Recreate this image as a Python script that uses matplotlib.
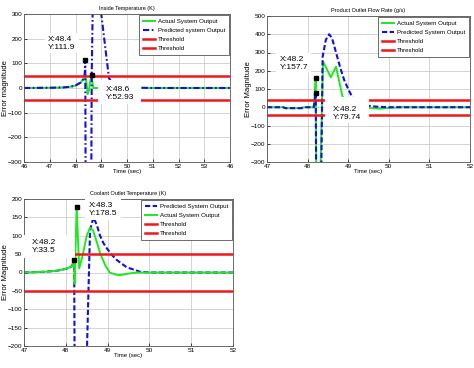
import matplotlib
matplotlib.use('Agg')
import matplotlib.pyplot as plt
from matplotlib.path import Path

plt.rcParams['font.family'] = ['Liberation Sans', 'DejaVu Sans']

# inside temperature (top left)
tl_time_act = [46.0, 46.5, 47.0, 47.5, 47.8, 48.0, 48.2, 48.3, 48.34, 48.38, 48.43, 48.47,
               48.52, 48.58, 48.63, 48.66, 48.7, 49.0, 50.6, 51.0, 54.0]
tl_act = [0, 0.5, 1, 2, 5, 10, 22, 35, 42, 48, 20, -25, -10, 30, 52.93, 20, 0, 0, 0, 0, 0]
tl_time_pred = [46.0, 46.5, 47.0, 47.5, 47.8, 48.0, 48.2, 48.3, 48.33, 48.36, 48.38, 48.4,
                48.6, 48.63, 48.68, 48.8, 48.9, 49.0, 49.15, 49.3, 49.45, 49.7, 50.0, 50.6,
                51.0, 52.0, 53.0, 54.0]
tl_pred = [0, 0.5, 1, 2, 5, 10, 22, 35, 40, 60, 111.9, -700, -700, 52.93, 400, 700, 500,
           300, 170, 40, 15, 5, 2, 1, 0, 0, 0, 0]
tl_thresholds = [50, -50]
tl_xticks = [46, 47, 48, 49, 50, 51, 52, 53, 54]
tl_xticklabels = ['46', '47', '48', '49', '50', '51', '52', '53', '46']
tl_tips = [(48.38, 111.9), (48.63, 52.93)]

# product outlet flow rate (top right)
tr_time_act = [47.0, 47.4, 47.45, 47.85, 47.9, 48.15, 48.18, 48.2, 48.22, 48.28, 48.38, 48.45,
               48.57, 48.7, 48.86, 49.0, 49.3, 49.6, 49.8, 50.0, 50.3, 52.0]
tr_act = [0, 0, -5, -5, 0, 0, 80, 157.7, -700, -700, 250, 220, 164, 222, 58, 20, 0, -5, -8,
          -3, 0, 0]
tr_time_pred = [47.0, 47.4, 47.45, 47.85, 47.9, 48.15, 48.18, 48.2, 48.22, 48.32, 48.37, 48.45,
                48.53, 48.6, 48.7, 48.8, 48.9, 49.0, 49.1, 49.3, 49.5, 49.7, 50.0, 51.0, 52.0]
tr_pred = [0, 0, -5, -5, 0, 0, 40, 79.74, -700, -700, 277, 370, 400, 380, 300, 220, 150, 100,
           55, 20, 8, 3, 0, 0, 0]
tr_thresholds = [40, -40]
tr_tips = [(48.2, 157.7), (48.2, 79.74)]

# coolant outlet temperature (bottom left)
bl_time_pred = [47.0, 47.5, 47.8, 48.0, 48.1, 48.15, 48.2, 48.22, 48.44, 48.58, 48.66, 48.74,
                48.82, 48.9, 48.98, 49.1, 49.22, 49.46, 49.78, 50.0, 52.0]
bl_pred = [0, 2, 5, 10, 14, 18, 33.5, -500, -500, 115, 150, 130, 100, 80, 66, 48, 34, 14, 2,
           0, 0]
bl_time_act = [47.0, 47.5, 47.8, 48.0, 48.1, 48.15, 48.2, 48.21, 48.26, 48.32, 48.4, 48.5,
               48.58, 48.65, 48.75, 48.82, 48.95, 49.05, 49.2, 49.3, 49.5, 49.7, 52.0]
bl_act = [0, 2, 5, 10, 14, 18, 33.5, -30, 178.5, 11, 45, 100, 122, 115, 80, 53, 18, 0, -6, -7,
          -3, 0, 0]
bl_thresholds = [50, -50]
bl_tips = [(48.2, 33.5), (48.26, 178.5)]

GREEN = '#1ee81e'
BLUE = '#1010e0'
RED = '#f01818'
DASH = (0, (2.5, 1.2))
DASHDOT = (0, (3, 1.2, 0.8, 1.2))


def tip_box(l, r, b, t):
    # box with separate paddings on each side, in font-size units
    def style(x0, y0, w, h, s):
        x1, y1 = x0 - l * s, y0 - b * s
        x2, y2 = x0 + w + r * s, y0 + h + t * s
        return Path([(x1, y1), (x2, y1), (x2, y2), (x1, y2), (x1, y1)], closed=True)
    return style


def setup(ax, title, ylabel, xlim, ylim, xticks, yticks, ylab_x):
    ax.set_xlim(xlim)
    ax.set_ylim(ylim)
    ax.set_xticks(xticks)
    ax.set_yticks(yticks)
    ax.grid(True, color='#c4c4c4', lw=0.5)
    ax.set_axisbelow(True)
    ax.tick_params(direction='in', length=2, width=0.5, labelsize=4.6, pad=1.2)
    for s in ax.spines.values():
        s.set_color('#555555')
        s.set_linewidth(0.6)
    ax.set_title(title, fontsize=4.0, pad=3)
    ax.set_xlabel('Time (sec)', fontsize=4.3, labelpad=0.5)
    ax.set_ylabel(ylabel, fontsize=5.6)
    ax.yaxis.set_label_coords(ylab_x, 0.5)


def thresholds(ax, values):
    for v in values:
        ax.axhline(v, color=RED, lw=1.8, label='Threshold')


def legend(ax):
    leg = ax.legend(loc='upper right', bbox_to_anchor=(1, 1), fontsize=4.45, fancybox=False,
                    framealpha=1, edgecolor='#333333', borderaxespad=0.2, handlelength=1.95,
                    handletextpad=0.5, labelspacing=0.6, borderpad=0.6)
    leg.get_frame().set_linewidth(0.5)


def datatip(ax, tip, tx, ty, pads):
    x, y = tip
    ax.plot([x], [y], 's', color='black', ms=2.2, zorder=6)
    ax.text(tx, ty, f'X:{x:.1f}\nY:{y:g}', fontsize=6, ha='center', va='center',
            multialignment='left', zorder=5,
            bbox=dict(boxstyle=tip_box(*pads), fc='white', ec='none'))


fig = plt.figure(figsize=(4.74, 3.68), dpi=100)
ax1 = fig.add_axes([24 / 474, 206 / 368, 206 / 474, 148 / 368])
ax2 = fig.add_axes([267 / 474, 206 / 368, 203 / 474, 146 / 368])
ax3 = fig.add_axes([24 / 474, 22 / 368, 209 / 474, 147 / 368])

# top left
setup(ax1, 'Inside Temperature (K)', 'Error magnitude', (46, 54), (-300, 300),
      tl_xticks, range(-300, 301, 100), -0.073)
ax1.set_xticklabels(tl_xticklabels)
ax1.plot(tl_time_act, tl_act, color=GREEN, lw=1.4, label='Actual System Output')
ax1.plot(tl_time_pred, tl_pred, color=BLUE, lw=1.5, ls=DASHDOT, label='Predicted system Output')
thresholds(ax1, tl_thresholds)
legend(ax1)
datatip(ax1, tl_tips[0], 47.46, 182, (0.4, 0.4, 0.3, 0.3))
datatip(ax1, tl_tips[1], 49.71, -24, (0.9, 0.9, 0.3, 0.8))

# top right
setup(ax2, 'Product Outlet Flow Rate (g/s)', 'Error Magnitude', (47, 52), (-300, 500),
      range(47, 53), range(-300, 501, 100), -0.076)
ax2.plot(tr_time_act, tr_act, color=GREEN, lw=1.4, label='Actual System Output')
ax2.plot(tr_time_pred, tr_pred, color=BLUE, lw=1.5, ls=DASH, label='Predicted System Output')
thresholds(ax2, tr_thresholds)
legend(ax2)
datatip(ax2, tr_tips[0], 47.66, 242, (0.4, 0.4, 0.3, 0.3))
datatip(ax2, tr_tips[1], 48.97, -32, (0.9, 0.95, 0.3, 1.0))

# bottom left
setup(ax3, 'Coolant Outlet Temperature (K)', 'Error Magnitude', (47, 52), (-200, 200),
      range(47, 53), range(-200, 201, 50), -0.072)
ax3.plot(bl_time_pred, bl_pred, color=BLUE, lw=1.5, ls=DASH, label='Predicted System Output')
ax3.plot(bl_time_act, bl_act, color=GREEN, lw=1.4, label='Actual System Output')
thresholds(ax3, bl_thresholds)
legend(ax3)
datatip(ax3, bl_tips[0], 47.47, 72, (0.85, 2.3, 0.5, 0.4))
datatip(ax3, bl_tips[1], 48.89, 171, (0.4, 0.4, 0.4, 0.4))

fig.savefig('out.png', dpi=100)
